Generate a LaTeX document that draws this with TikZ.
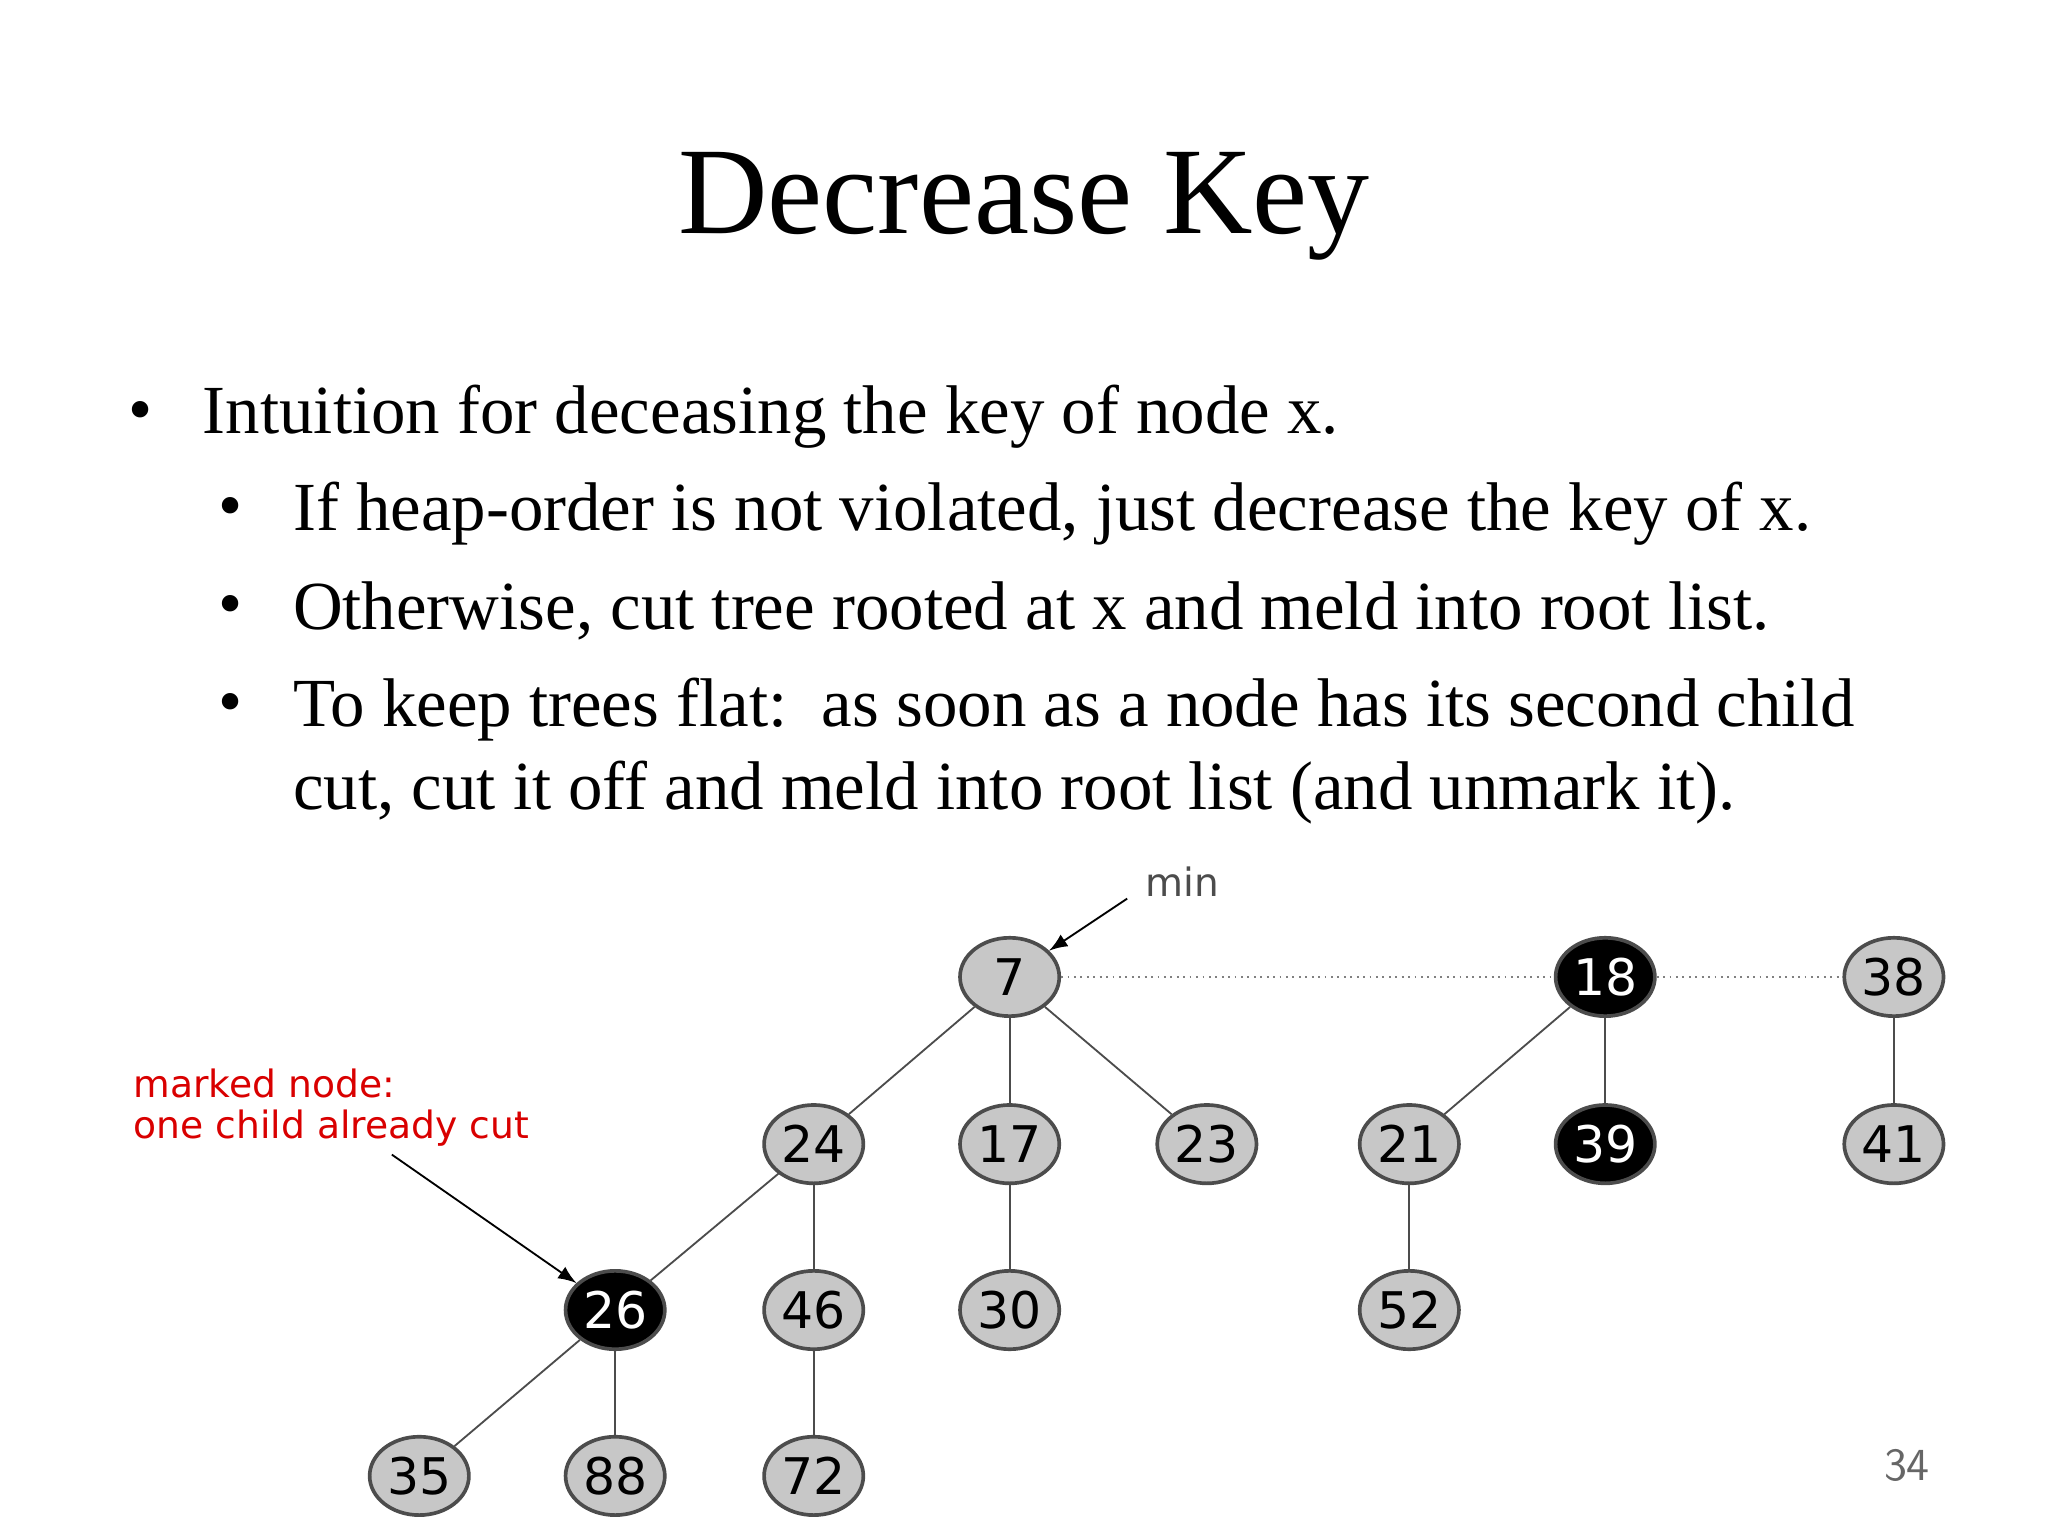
\documentclass[tikz,border=0pt]{standalone}
\usepackage{fontspec}
\setmainfont{Liberation Serif}
\newfontfamily\keyfont{DejaVu Sans}
\usetikzlibrary{shapes.geometric}

\begin{document}
\begin{tikzpicture}[
  key/.style = {shape = ellipse, draw = black!70, fill = black!22, thick,
                minimum width = 0.76cm, minimum height = 0.6cm, inner sep = 0pt,
                font = \keyfont\fontsize{11}{11}\selectfont},
  marked/.style = {key, fill = black, text = white},
  bullet/.style = {anchor = west, font = \fontsize{15}{18}\selectfont},
  tree/.style = {draw = black!70}
]
\useasboundingbox (0,0) rectangle (15.68,-11.76);

\node (title) at (7.84,-1.58) {\fontsize{27}{30}\selectfont Decrease Key};

\node (b0) at (0.86,-3.19) [bullet] {\textbullet};
\node (t0) at (1.43,-3.19) [bullet] {Intuition for deceasing the key of node x.};
\node (b1) at (1.55,-3.93) [bullet] {\textbullet};
\node (t1) at (2.12,-3.93) [bullet] {If heap-order is not violated, just decrease the key of x.};
\node (b2) at (1.55,-4.68) [bullet] {\textbullet};
\node (t2) at (2.12,-4.68) [bullet] {Otherwise, cut tree rooted at x and meld into root list.};
\node (b3) at (1.55,-5.43) [bullet] {\textbullet};
\node (t3) at (2.12,-5.43) [bullet] {To keep trees flat:\ \ as soon as a node has its second child};
\node (t4) at (2.12,-6.07) [bullet] {cut, cut it off and meld into root list (and unmark it).};

% root list
\node (7) at (7.73,-7.48) [key] {7};
\node (18) at (12.29,-7.48) [marked] {18};
\node (38) at (14.5,-7.48) [key] {38};

\node (24) at (6.23,-8.76) [key] {24};
\node (17) at (7.73,-8.76) [key] {17};
\node (23) at (9.24,-8.76) [key] {23};
\node (21) at (10.79,-8.76) [key] {21};
\node (39) at (12.29,-8.76) [marked] {39};
\node (41) at (14.5,-8.76) [key] {41};

\node (26) at (4.71,-10.03) [marked] {26};
\node (46) at (6.23,-10.03) [key] {46};
\node (30) at (7.73,-10.03) [key] {30};
\node (52) at (10.79,-10.03) [key] {52};

\node (35) at (3.21,-11.3) [key] {35};
\node (88) at (4.71,-11.3) [key] {88};
\node (72) at (6.23,-11.3) [key] {72};

\draw [densely dotted, black!50] (7) -- (18);
\draw [densely dotted, black!50] (18) -- (38);

\path [tree] (7) edge (24) edge (17) edge (23)
  (18) edge (21) edge (39)
  (38) edge (41)
  (24) edge (26) edge (46)
  (17) edge (30)
  (21) edge (52)
  (26) edge (35) edge (88)
  (46) edge (72);

% labels
\node (min) at (9.05,-6.75) [font = \keyfont\fontsize{8.5}{8.5}\selectfont, text = black!70] {min};
\coordinate (minfrom) at (8.63,-6.88);
\draw [-latex] (minfrom) -- (7);

\node (mark) at (0.9,-8.48) [anchor = west, align = left, text = red!85!black,
  font = \keyfont\fontsize{8.2}{8.8}\selectfont] {marked node:\\one child already cut};
\coordinate (markfrom) at (3.0,-8.84);
\draw [-latex] (markfrom) -- (26);

\node (page) at (14.6,-11.22) [text = black!60, font = \sffamily\fontsize{10}{10}\selectfont] {34};
\end{tikzpicture}
\end{document}
